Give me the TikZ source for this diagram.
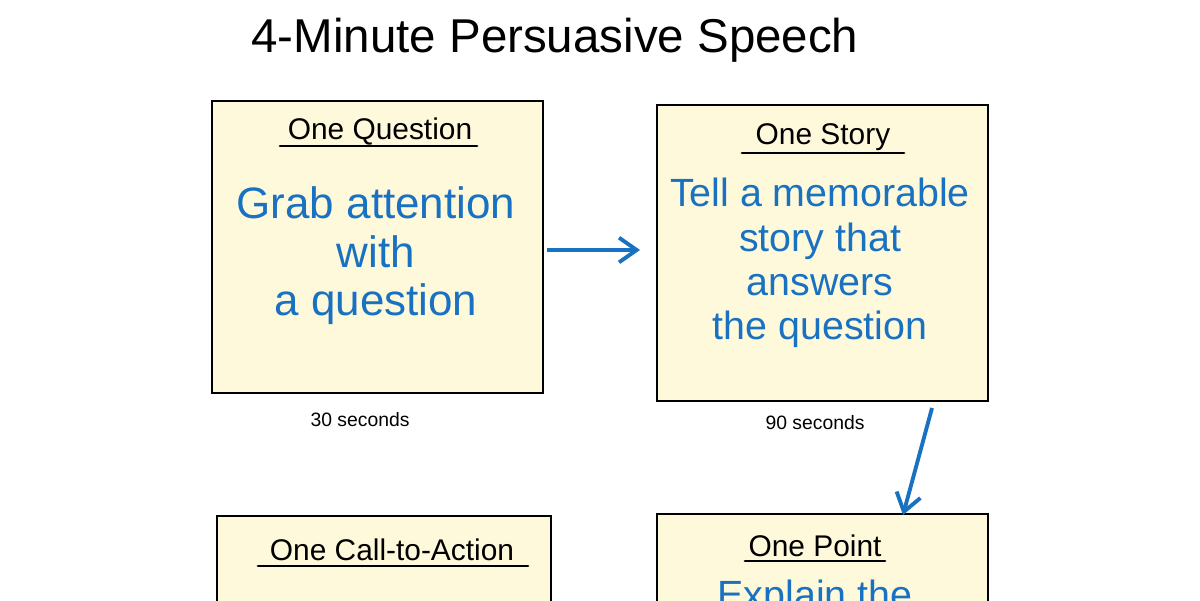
\documentclass[tikz,border=0pt]{standalone}
\usepackage{fontspec}
\setmainfont{Liberation Sans}
\usetikzlibrary{arrows.meta}
\definecolor{note}{HTML}{FFF9DB}
\definecolor{ink}{HTML}{1971C2}
\begin{document}
\begin{tikzpicture}[x=0.01cm,y=-0.01cm,
  card/.style={draw=black,line width=0.8pt,fill=note},
  head/.style={font=\fontsize{8.5}{10}\selectfont},
  uline/.style={line width=0.8pt,line cap=round},
  body/.style={text=ink,align=center},
  small/.style={font=\fontsize{5.5}{7}\selectfont},
  conn/.style={draw=ink,line width=1.1pt,-{Straight Barb[length=5pt,width=7pt]}}]
\useasboundingbox (0,0) rectangle (1200,600);
\path[card] (212,101) rectangle (543,393);
\path[card] (657,105) rectangle (988,401);
\path[card] (217,516) rectangle (551,640);
\path[card] (657,514) rectangle (988,640);
\node (title) at (555,40) {\fontsize{13.5}{16}\selectfont 4-Minute Persuasive Speech};
\node[head] (h1) at (380,131) {One Question};
\draw[uline] (280,146) -- (477,146);
\node[head] (h2) at (823,137) {One Story};
\draw[uline] (742,153) -- (904,153);
\node[head] (h3) at (392,550) {One Call-to-Action};
\draw[uline] (258,566) -- (528,566);
\node[head] (h4) at (815,546) {One Point};
\draw[uline] (745,561) -- (885,561);
\node[body,font=\fontsize{12.5}{13.8}\selectfont] (b1) at (376,256) {Grab attention\\with\\a question};
\node[body,font=\fontsize{11.2}{12.6}\selectfont] (b2) at (820,263) {Tell a memorable\\story that\\answers\\the question};
\node[body,font=\fontsize{11.2}{12.4}\selectfont] (b4) at (815,598) {Explain the};
\node[small] (s1) at (360,420) {30 seconds};
\node[small] (s2) at (815,423) {90 seconds};
\coordinate (a1) at (547,250); \coordinate (a2) at (640,250);
\coordinate (c1) at (932,408); \coordinate (c2) at (903,515);
\draw[conn] (a1) -- (a2);
\draw[conn] (c1) -- (c2);
\end{tikzpicture}
\end{document}
